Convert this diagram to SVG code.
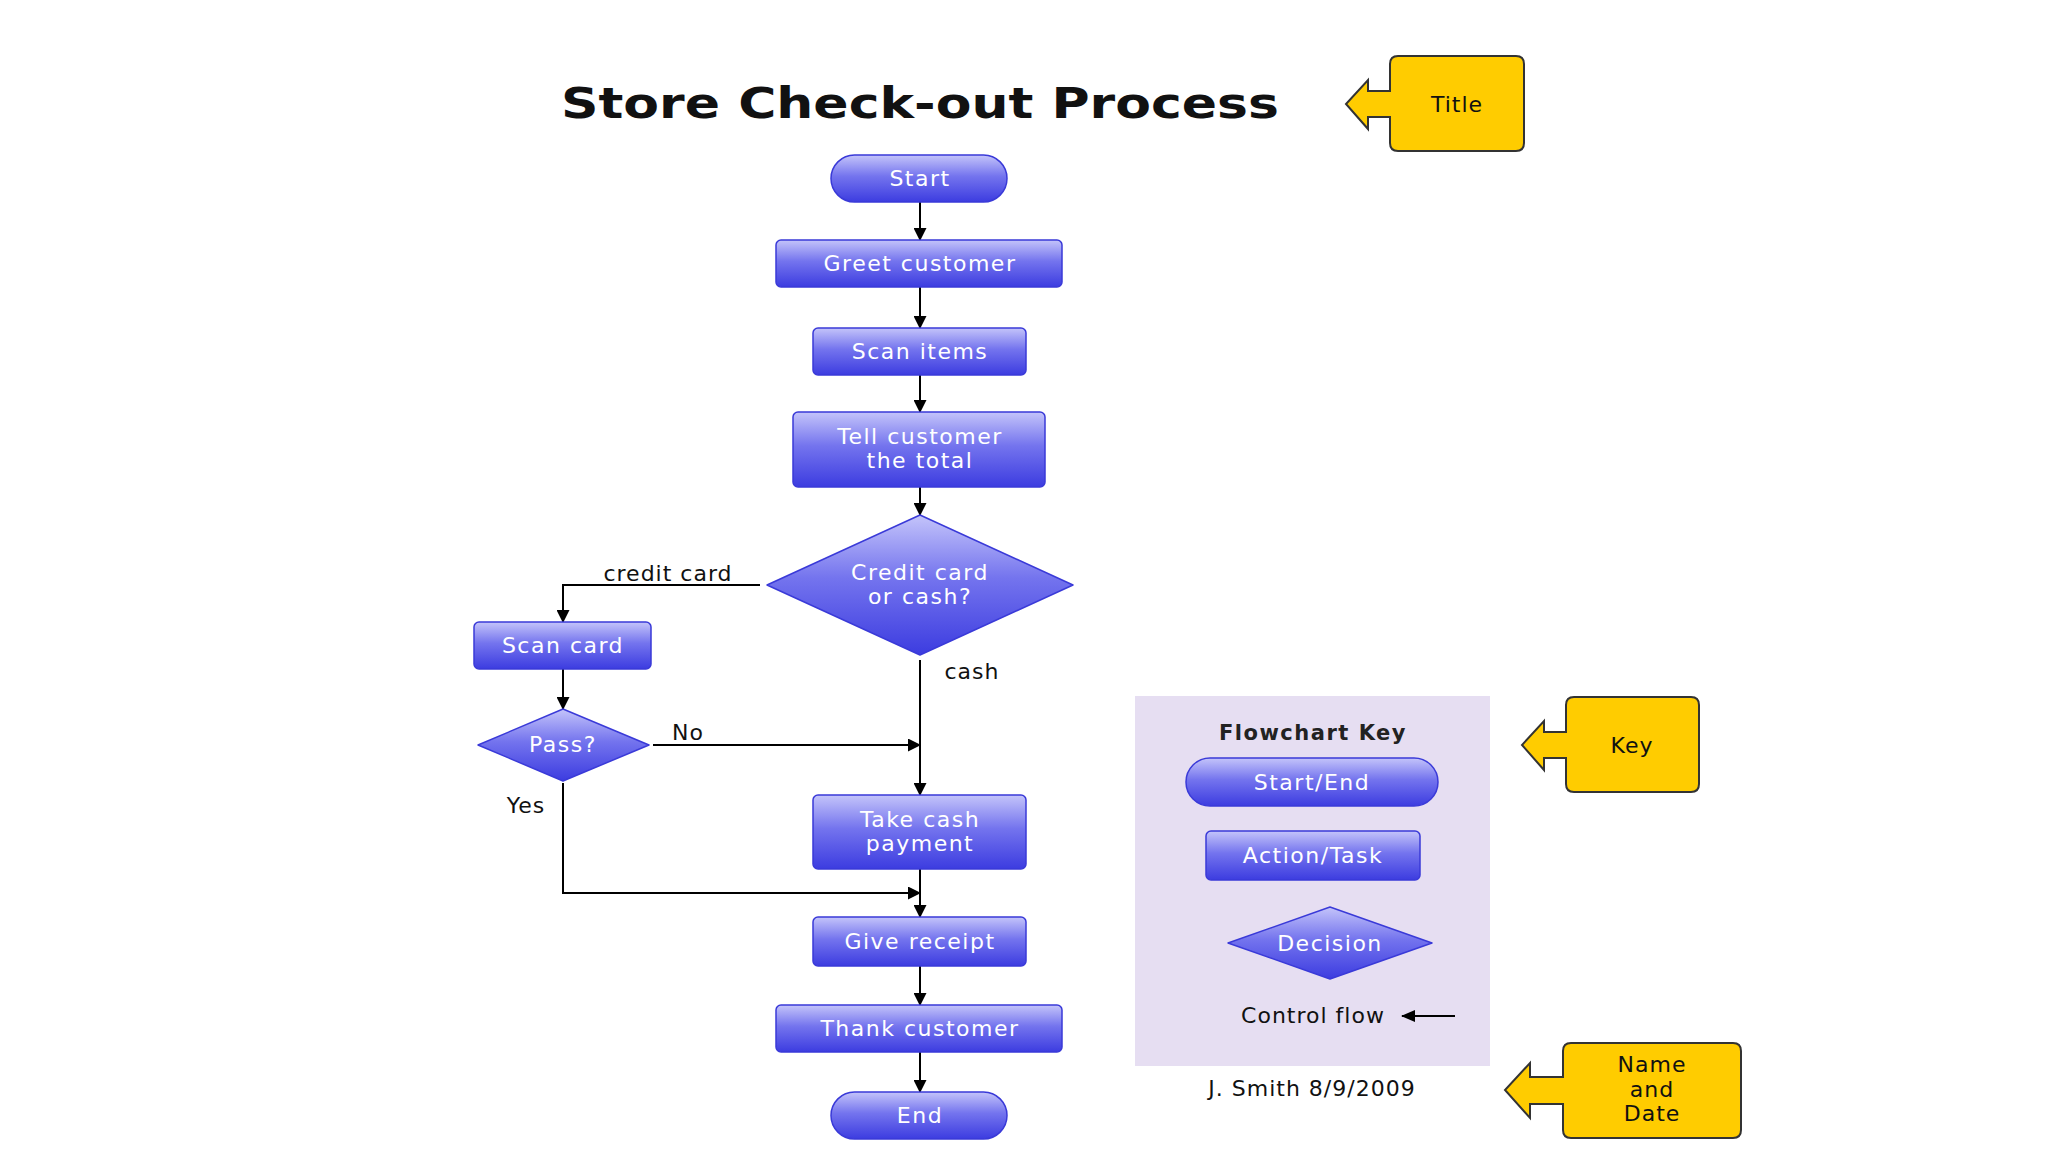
<svg xmlns="http://www.w3.org/2000/svg" width="2048" height="1152" viewBox="0 0 2048 1152">
<defs>
<linearGradient id="g" x1="0" y1="0" x2="0" y2="1">
<stop offset="0" stop-color="#c4c4fa"/><stop offset="0.45" stop-color="#7474ee"/><stop offset="1" stop-color="#3c3ce0"/>
</linearGradient>
<marker id="ar" markerWidth="13" markerHeight="13" refX="12" refY="6.5" orient="auto" markerUnits="userSpaceOnUse" viewBox="0 0 13 13">
<path d="M0,0 L13,6.5 L0,13 z" fill="#000"/>
</marker>
<marker id="ar2" markerWidth="14" markerHeight="14" refX="13" refY="7" orient="auto" markerUnits="userSpaceOnUse" viewBox="0 0 14 14">
<path d="M0,1 L14,7 L0,13 z" fill="#000"/>
</marker>
</defs>
<style>
.n{fill:url(#g);stroke:#3a3ad8;stroke-width:1.5}
.t{font-family:"DejaVu Sans",sans-serif;font-size:22px;fill:#fff;text-anchor:middle;letter-spacing:1.5px}
.l{font-family:"DejaVu Sans",sans-serif;font-size:22px;fill:#111;text-anchor:middle;letter-spacing:1px}
.c{fill:none;stroke:#000;stroke-width:2}
.y{fill:#ffcc00;stroke:#333;stroke-width:2}
</style>
<rect width="2048" height="1152" fill="#fff"/>
<text x="920" y="118" font-family="DejaVu Sans,sans-serif" font-weight="bold" font-size="42" text-anchor="middle" textLength="718" lengthAdjust="spacingAndGlyphs" fill="#111">Store Check-out Process</text>

<g id="callout-title"><path class="y" d="M1398,56 H1516 Q1524,56 1524,64 V143 Q1524,151 1516,151 H1398 Q1390,151 1390,143 V117 H1368 V129 L1346,104 L1368,80 V91 H1390 V64 Q1390,56 1398,56 Z"/><text class="l" x="1457" y="112">Title</text></g>
<g id="callout-key"><path class="y" d="M1574,697 H1691 Q1699,697 1699,705 V784 Q1699,792 1691,792 H1574 Q1566,792 1566,784 V758 H1544 V770 L1522,745 L1544,721 V732 H1566 V705 Q1566,697 1574,697 Z"/><text class="l" x="1632" y="753">Key</text></g>
<g id="callout-name"><path class="y" d="M1571,1043 H1733 Q1741,1043 1741,1051 V1130 Q1741,1138 1733,1138 H1571 Q1563,1138 1563,1130 V1104 H1530 V1118 L1505,1090 L1530,1063 V1077 H1563 V1051 Q1563,1043 1571,1043 Z"/><text class="l" x="1652" y="1072">Name</text><text class="l" x="1652" y="1097">and</text><text class="l" x="1652" y="1121">Date</text></g>

<g id="connectors">
<path class="c" d="M920,202 V240" marker-end="url(#ar)"/>
<path class="c" d="M920,287 V328" marker-end="url(#ar)"/>
<path class="c" d="M920,375 V412" marker-end="url(#ar)"/>
<path class="c" d="M920,487 V515" marker-end="url(#ar)"/>
<path class="c" d="M760,585 H563 V622" marker-end="url(#ar)"/>
<path class="c" d="M920,660 V795" marker-end="url(#ar)"/>
<path class="c" d="M563,669 V709" marker-end="url(#ar)"/>
<path class="c" d="M653,745 H920" marker-end="url(#ar)"/>
<path class="c" d="M563,783 V893 H920" marker-end="url(#ar)"/>
<path class="c" d="M920,869 V917" marker-end="url(#ar)"/>
<path class="c" d="M920,966 V1005" marker-end="url(#ar)"/>
<path class="c" d="M920,1052 V1092" marker-end="url(#ar)"/>
<text class="l" x="668" y="581">credit card</text>
<text class="l" x="972" y="679">cash</text>
<text class="l" x="688" y="740">No</text>
<text class="l" x="526" y="813">Yes</text>
</g>

<g id="start"><rect class="n" x="831" y="155" width="176" height="47" rx="23.5"/><text class="t" x="920" y="186">Start</text></g>
<g id="greet"><rect class="n" x="776" y="240" width="286" height="47" rx="5"/><text class="t" x="920" y="271">Greet customer</text></g>
<g id="scan-items"><rect class="n" x="813" y="328" width="213" height="47" rx="5"/><text class="t" x="920" y="359">Scan items</text></g>
<g id="tell"><rect class="n" x="793" y="412" width="252" height="75" rx="5"/><text class="t" x="920" y="444">Tell customer</text><text class="t" x="920" y="468">the total</text></g>
<g id="decision"><path class="n" d="M920,515 L1073,585 L920,655 L767,585 Z" stroke-linejoin="round"/><text class="t" x="920" y="580">Credit card</text><text class="t" x="920" y="604">or cash?</text></g>
<g id="scan-card"><rect class="n" x="474" y="622" width="177" height="47" rx="5"/><text class="t" x="563" y="653">Scan card</text></g>
<g id="pass"><path class="n" d="M563,709 L649,745 L563,781 L478,745 Z" stroke-linejoin="round"/><text class="t" x="563" y="752">Pass?</text></g>
<g id="cash"><rect class="n" x="813" y="795" width="213" height="74" rx="5"/><text class="t" x="920" y="827">Take cash</text><text class="t" x="920" y="851">payment</text></g>
<g id="receipt"><rect class="n" x="813" y="917" width="213" height="49" rx="5"/><text class="t" x="920" y="949">Give receipt</text></g>
<g id="thank"><rect class="n" x="776" y="1005" width="286" height="47" rx="5"/><text class="t" x="920" y="1036">Thank customer</text></g>
<g id="end"><rect class="n" x="831" y="1092" width="176" height="47" rx="23.5"/><text class="t" x="920" y="1123">End</text></g>

<g id="key">
<rect x="1135" y="696" width="355" height="370" fill="#e6def2"/>
<text x="1313" y="740" font-family="DejaVu Sans,sans-serif" font-weight="bold" font-size="21" text-anchor="middle" fill="#222" letter-spacing="1.5">Flowchart Key</text>
<rect class="n" x="1186" y="758" width="252" height="48" rx="24"/><text class="t" x="1312" y="790">Start/End</text>
<rect class="n" x="1206" y="831" width="214" height="49" rx="5"/><text class="t" x="1313" y="863">Action/Task</text>
<path class="n" d="M1330,907 L1432,943 L1330,979 L1228,943 Z" stroke-linejoin="round"/><text class="t" x="1330" y="951">Decision</text>
<text class="l" x="1313" y="1023">Control flow</text>
<path class="c" d="M1455,1016 H1402" marker-end="url(#ar2)"/>
</g>
<text id="author" class="l" x="1312" y="1096">J. Smith 8/9/2009</text>
</svg>
